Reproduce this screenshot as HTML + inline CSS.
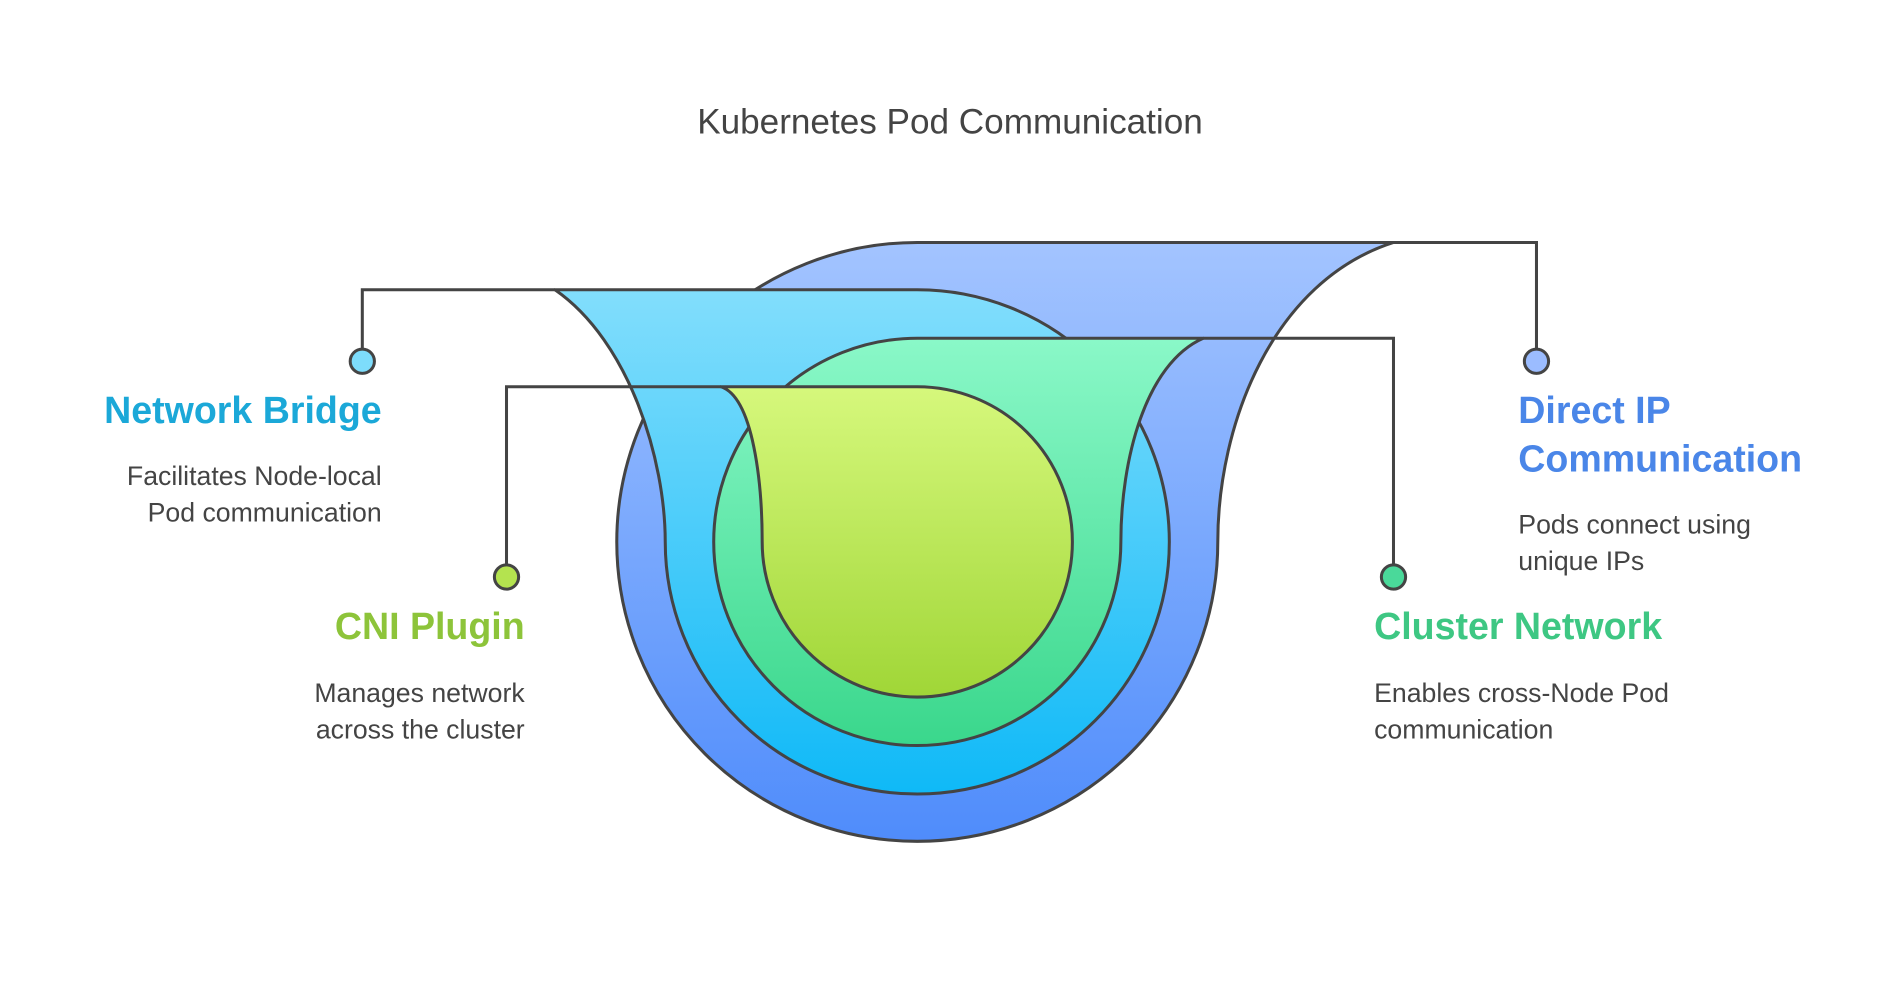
<!DOCTYPE html>
<html><head><meta charset="utf-8"><style>
html,body{margin:0;padding:0;background:#fff;}
svg{display:block;}
text{font-family:"Liberation Sans",sans-serif;}
</style></head><body>
<svg width="1900" height="988" viewBox="0 0 1568 815" preserveAspectRatio="none" xmlns="http://www.w3.org/2000/svg">
<defs>
<linearGradient id="gb" x1="0" y1="0" x2="0" y2="1"><stop offset="0" stop-color="#a3c4ff"/><stop offset="1" stop-color="#4f8cfb"/></linearGradient>
<linearGradient id="gc" x1="0" y1="0" x2="0" y2="1"><stop offset="0" stop-color="#82defc"/><stop offset="1" stop-color="#0fb9f7"/></linearGradient>
<linearGradient id="gg" x1="0" y1="0" x2="0" y2="1"><stop offset="0" stop-color="#8af8c8"/><stop offset="1" stop-color="#3ad78c"/></linearGradient>
<linearGradient id="gy" x1="0" y1="0" x2="0" y2="1"><stop offset="0" stop-color="#d6f87c"/><stop offset="1" stop-color="#a0d637"/></linearGradient>
</defs>
<rect width="1568" height="815" fill="#fff"/>
<text x="784" y="110" text-anchor="middle" font-size="29" fill="#444">Kubernetes Pod Communication</text>

<g stroke="#444" stroke-width="2.5" stroke-linejoin="round">
<path d="M757,200 L1150,200 C1050,232 1005,350 1005,447 A248,247 0 1,1 757,200 Z" fill="url(#gb)"/>
<path d="M757,239 L458,239 C520,282 549,380 549,447 A208,208 0 1,0 757,239 Z" fill="url(#gc)"/>
<path d="M757,279 L993,279 C945,300 925,380 925,447 A168,168 0 1,1 757,279 Z" fill="url(#gg)"/>
<path d="M757,319 L595,319 C622,328 629,400 629,447 A128,128 0 1,0 757,319 Z" fill="url(#gy)"/>
</g>

<g stroke="#444" stroke-width="2.5" fill="none">
<polyline points="1150,200 1268,200 1268,288"/>
<polyline points="458,239 299,239 299,288"/>
<polyline points="993,279 1150,279 1150,466"/>
<polyline points="595,319 418,319 418,466"/>
</g>
<g stroke="#444" stroke-width="2.5">
<circle cx="1268" cy="298" r="10" fill="#9bbcff"/>
<circle cx="299" cy="298" r="10" fill="#7ddcfb"/>
<circle cx="1150" cy="476" r="10" fill="#4ad99a"/>
<circle cx="418" cy="476" r="10" fill="#b4e34f"/>
</g>

<text x="315" y="349" text-anchor="end" font-size="31" font-weight="bold" fill="#1ba8d8">Network Bridge</text>
<text x="315" y="400" text-anchor="end" font-size="22" fill="#444">Facilitates Node-local</text>
<text x="315" y="430" text-anchor="end" font-size="22" fill="#444">Pod communication</text>

<text x="433" y="527" text-anchor="end" font-size="31" font-weight="bold" fill="#8dc43a">CNI Plugin</text>
<text x="433" y="579" text-anchor="end" font-size="22" fill="#444">Manages network</text>
<text x="433" y="609" text-anchor="end" font-size="22" fill="#444">across the cluster</text>

<text x="1253" y="349" font-size="31" font-weight="bold" fill="#4a86e8">Direct IP</text>
<text x="1253" y="389" font-size="31" font-weight="bold" fill="#4a86e8">Communication</text>
<text x="1253" y="440" font-size="22" fill="#444">Pods connect using</text>
<text x="1253" y="470" font-size="22" fill="#444">unique IPs</text>

<text x="1134" y="527" font-size="31" font-weight="bold" fill="#3ec783">Cluster Network</text>
<text x="1134" y="579" font-size="22" fill="#444">Enables cross-Node Pod</text>
<text x="1134" y="609" font-size="22" fill="#444">communication</text>
</svg>
</body></html>
